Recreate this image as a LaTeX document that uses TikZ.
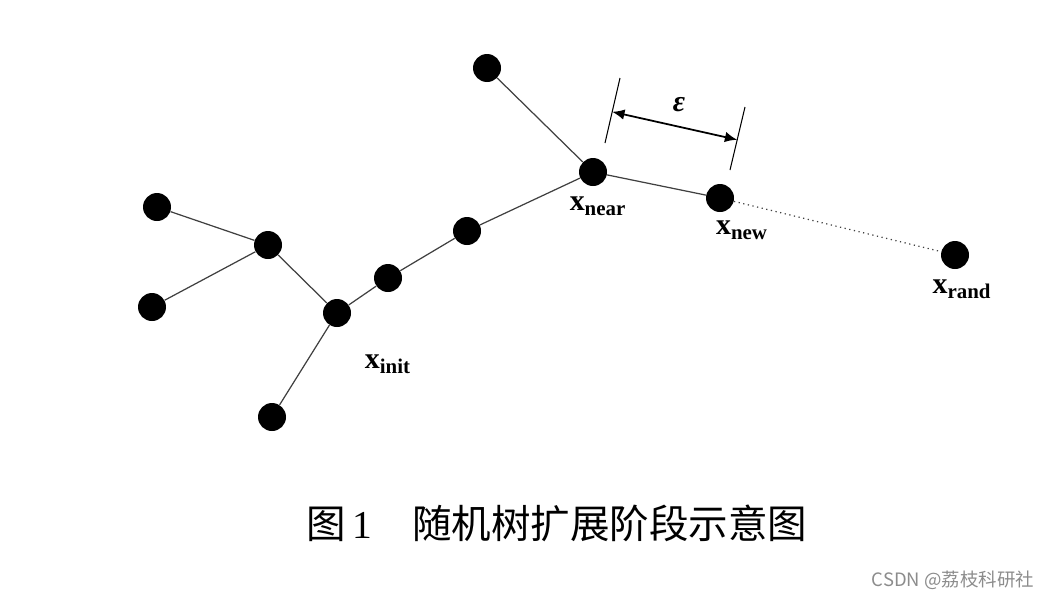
\documentclass[tikz,border=0pt]{standalone}
\usepackage{fontspec}
\setmainfont{Liberation Serif}
\newfontfamily\cjk{Noto Sans CJK SC}
\usetikzlibrary{calc,arrows.meta}

\begin{document}
\begin{tikzpicture}[x=0.02cm, y=-0.02cm,
  dot/.style={circle, fill=black, minimum size=0.56cm, inner sep=0pt},
  edge/.style={line width=0.7pt, color=black!75},
  lbl/.style={font=\fontsize{17}{17}\selectfont}]

  \useasboundingbox (0,0) rectangle (1053,599);

  % Main branch
  \node[dot] (T) at (487,68) {};
  \node[dot] (N) at (593,172) {};
  \node[dot] (W) at (720,198) {};
  \node[dot] (R) at (955,255) {};
  \node[dot] (M2) at (467,231) {};
  \node[dot] (M1) at (388,278) {};
  \node[dot] (I) at (337,313) {};

  % Left branches
  \node[dot] (L) at (268,245) {};
  \node[dot] (L1) at (157,207) {};
  \node[dot] (L2) at (152,307) {};
  \node[dot] (B) at (272,417) {};

  % Labels
  \node[lbl] at (598,206) {$\mathbf{x}_{\mathbf{near}}$};
  \node[lbl] at (742,230) {$\mathbf{x}_{\mathbf{new}}$};
  \node[lbl] at (962,289) {$\mathbf{x}_{\mathbf{rand}}$};
  \node[lbl] at (388,364) {$\mathbf{x}_{\mathbf{init}}$};

  % Edges
  \draw[edge] (T) -- (N);
  \draw[edge] (N) -- (W);
  \draw[edge, dotted] (W) -- (R);
  \draw[edge] (N) -- (M2);
  \draw[edge] (M2) -- (M1);
  \draw[edge] (M1) -- (I);
  \draw[edge] (I) -- (L);
  \draw[edge] (L) -- (L1);
  \draw[edge] (L) -- (L2);
  \draw[edge] (I) -- (B);

  % epsilon
  \coordinate (E1) at (620,78);
  \coordinate (E2) at (605,143);
  \coordinate (F1) at (745,107);
  \coordinate (F2) at (730,170);
  \draw[line width=0.6pt] (E1) -- (E2);
  \draw[line width=0.6pt] (F1) -- (F2);
  \draw[{Latex[length=7pt,width=6pt]}-{Latex[length=7pt,width=6pt]}, line width=1pt] ($(E1)!0.52!(E2)$) -- ($(F1)!0.52!(F2)$);
  \node[lbl] at (679,105) {\bfseries\itshape ε};

  % Caption
  \node at (557,523) {\fontsize{22.5}{22.5}\selectfont\cjk 图\,{\rmfamily 1}\hspace{1em}随机树扩展阶段示意图};
  \node[text=black!45] at (953,580) {\fontsize{10.5}{10.5}\selectfont\cjk CSDN @荔枝科研社};

\end{tikzpicture}
\end{document}
